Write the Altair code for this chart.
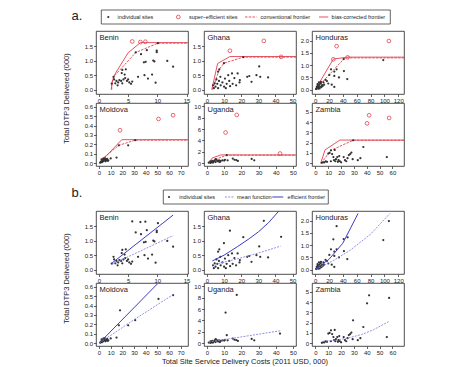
import altair as alt
import pandas as pd

FONT = "Liberation Sans"
RED = "#e2404f"
BLUE = "#3c3cc4"
LBLUE = "#8484e0"
DOT = "#333333"
INK = "#222222"

# ---------------- data: individual sites (cost in 2011 USD 000, DTP3 delivered 000) ----------------
benin_cost = [10.1, 6.3, 7.2, 8.2, 9.9, 9.9, 7.7, 8.0, 9.3, 9.5, 11.7, 12.7, 4.0, 4.6, 3.9, 4.4, 2.5, 2.2, 2.6, 3.0,
              3.3, 3.5, 3.8, 4.0, 4.2, 4.5, 4.8, 5.0, 5.2, 5.5, 3.2, 2.8, 6.7, 7.8, 8.4, 9.1, 9.7, 5.7]
benin_dtp3 = [1.60, 1.28, 1.22, 1.36, 1.34, 1.29, 0.94, 0.96, 1.00, 0.97, 0.99, 0.79, 0.68, 0.70, 0.57, 0.52, 0.44, 0.21, 0.35, 0.30,
              0.25, 0.33, 0.30, 0.22, 0.35, 0.40, 0.30, 0.35, 0.25, 0.20, 0.15, 0.22, 0.44, 0.50, 0.38, 0.52, 0.24, 0.28]
ghana_cost = [21.2, 9.9, 30.5, 14.6, 17.9, 7.8, 12.4, 6.5, 7.2, 24.7, 23.5, 28.9, 31.1, 35.7, 26.0, 19.2, 16.0, 13.0, 10.5, 11.5,
              9.0, 8.0, 6.0, 5.0, 4.5, 4.0, 3.5, 6.5, 10.0, 13.5, 15.0, 17.0, 7.0, 5.5, 11.0, 19.0]
ghana_dtp3 = [1.12, 0.91, 0.80, 0.56, 0.56, 0.44, 0.50, 0.62, 0.70, 0.47, 0.44, 0.50, 0.44, 0.42, 0.27, 0.33, 0.40, 0.30, 0.38, 0.20,
              0.25, 0.15, 0.20, 0.10, 0.22, 0.05, 0.15, 0.05, 0.10, 0.12, 0.20, 0.15, 0.30, 0.35, 0.05, 0.25]
honduras_cost = [41.2, 98.4, 22.9, 27.7, 31.0, 41.6, 20.5, 27.7, 34.4, 46.4, 19.0, 27.7, 24.0, 15.0, 17.0, 12.0, 2.0, 3.0, 4.0, 5.0,
                 6.0, 7.0, 8.0, 9.0, 10.0, 3.5, 5.5, 1.5, 6.5, 8.5, 11.0, 4.5, 2.5, 7.5, 13.0]
honduras_dtp3 = [1.25, 1.21, 0.83, 0.74, 0.83, 0.76, 0.60, 0.56, 0.50, 0.43, 0.25, 0.11, 0.20, 0.40, 0.35, 0.30, 0.05, 0.10, 0.15, 0.08,
                 0.20, 0.12, 0.25, 0.10, 0.18, 0.22, 0.30, 0.02, 0.05, 0.32, 0.15, 0.04, 0.12, 0.28, 0.20]
moldova_cost = [17.0, 25.0, 31.0, 15.0, 10.0, 1.0, 1.5, 2.0, 2.5, 3.0, 3.5, 4.0, 4.5, 5.0, 5.5, 6.0, 6.5, 7.0, 7.5, 8.0,
                2.2, 3.8, 5.2]
moldova_dtp3 = [0.19, 0.19, 0.245, 0.06, 0.05, 0.005, 0.01, 0.02, 0.01, 0.03, 0.02, 0.04, 0.03, 0.035, 0.02, 0.04, 0.03, 0.045, 0.025, 0.03,
                0.04, 0.05, 0.05]
uganda_cost = [11.5, 1.0, 2.0, 2.5, 3.0, 3.5, 4.0, 4.5, 5.0, 5.5, 6.0, 6.5, 7.0, 7.5, 8.0, 9.0, 10.0, 10.5, 12.0, 15.0,
               16.0, 17.0, 18.0, 26.0, 27.5, 2.0, 3.0, 5.0]
uganda_dtp3 = [1.4, 0.1, 0.3, 0.2, 0.4, 0.1, 0.3, 0.5, 0.2, 0.6, 0.4, 0.3, 0.5, 0.2, 0.4, 0.5, 0.45, 0.6, 0.5, 0.8,
               0.6, 0.55, 0.4, 0.75, 0.5, 0.05, 0.15, 0.7]
zambia_cost = [29.3, 37.3, 55.6, 12.1, 10.0, 8.0, 11.0, 13.0, 14.0, 15.0, 16.0, 17.0, 18.0, 19.0, 20.0, 7.0, 9.0, 12.0, 14.5, 15.5,
               17.5, 22.0, 23.0, 24.0, 25.0, 26.0, 27.0, 28.0, 29.0, 33.0, 35.0, 5.0, 6.0, 18.5]
zambia_dtp3 = [2.23, 1.58, 0.61, 1.26, 0.94, 0.20, 1.00, 0.90, 0.60, 1.30, 0.40, 0.60, 0.30, 0.20, 0.10, 0.10, 0.15, 0.20, 0.30, 0.20,
               0.15, 0.60, 0.30, 0.20, 0.50, 0.80, 0.90, 1.04, 0.40, 0.30, 0.50, 0.05, 0.10, 0.70]

# super-efficient sites
benin_super_cost, benin_super_dtp3 = [5.7, 7.1, 7.95], [1.66, 1.64, 1.65]
ghana_super_cost, ghana_super_dtp3 = [13.4, 33.2, 43.3], [1.34, 1.68, 1.13]
honduras_super_cost, honduras_super_dtp3 = [31.0, 106.5, 26.3, 46.9], [1.78, 1.99, 1.24, 1.32]
moldova_super_cost, moldova_super_dtp3 = [18.0, 51.0, 63.5], [0.35, 0.47, 0.51]
uganda_super_cost, uganda_super_dtp3 = [17.3, 10.8, 42.5], [8.5, 5.4, 1.7]
zambia_super_cost, zambia_super_dtp3 = [41.8, 40.2, 57.4], [4.65, 3.87, 4.39]

# conventional frontier (panel a)
benin_conv = ([2.2, 2.2, 2.5, 6.3, 10.1, 16.0], [0.0, 0.21, 0.44, 1.28, 1.60, 1.60])
ghana_conv = ([3.2, 7.2, 9.9, 21.2, 53.0], [0.0, 0.70, 0.91, 1.12, 1.12])
honduras_conv = ([0.5, 41.2, 46.9, 130.0], [0.0, 1.25, 1.30, 1.30])
moldova_conv = ([0.5, 2.2, 17.0, 31.0, 77.0], [0.0, 0.04, 0.19, 0.245, 0.245])
uganda_conv = ([1.0, 5.0, 11.5, 53.0], [0.0, 0.7, 1.4, 1.4])
zambia_conv = ([4.5, 10.0, 12.1, 29.3, 70.0], [0.0, 0.94, 1.26, 2.23, 2.23])

# bias-corrected frontier (panel a)
benin_bias = ([2.1, 2.3, 2.7, 5.0, 7.1, 10.1, 16.0], [0.0, 0.28, 0.52, 1.27, 1.62, 1.62, 1.62])
ghana_bias = ([2.8, 6.2, 13.4, 53.0], [0.0, 0.90, 1.14, 1.14])
honduras_bias = ([0.3, 26.3, 46.9, 130.0], [0.0, 1.25, 1.33, 1.33])
moldova_bias = ([0.3, 19.5, 77.0], [0.0, 0.25, 0.25])
uganda_bias = ([0.8, 3.0, 8.0, 53.0], [0.0, 0.9, 1.45, 1.45])
zambia_bias = ([4.0, 7.5, 19.0, 70.0], [0.0, 1.3, 2.25, 2.25])

# mean function (panel b)
benin_mean = ([2.2, 12.7], [0.18, 1.17])
ghana_mean = ([3.1, 15.0, 30.0, 43.0], [0.16, 0.33, 0.57, 0.81])
honduras_mean = ([0.5, 25.0, 50.0, 80.0, 108.0], [0.01, 0.35, 0.78, 1.45, 2.3])
moldova_mean = ([0.5, 30.0, 64.0], [0.004, 0.25, 0.52])
uganda_mean = ([1.0, 43.0], [0.2, 2.2])
zambia_mean = ([6.0, 15.0, 25.0, 36.0, 45.0, 57.0], [0.2, 0.3, 0.5, 0.85, 1.3, 2.1])

# efficient frontier (panel b)
benin_eff = ([2.2, 12.7], [0.22, 1.88])
ghana_eff = ([3.1, 10.0, 18.0, 25.0, 30.0, 36.0, 42.0], [0.30, 0.50, 0.80, 1.08, 1.30, 1.62, 2.02])
honduras_eff = ([0.5, 20.0, 40.0, 62.0], [0.02, 0.42, 1.08, 2.3])
moldova_eff = ([0.5, 50.0], [0.005, 0.63])

countries = ["Benin", "Ghana", "Honduras", "Moldova", "Uganda", "Zambia"]

SITES = {"Benin": (benin_cost, benin_dtp3), "Ghana": (ghana_cost, ghana_dtp3),
         "Honduras": (honduras_cost, honduras_dtp3), "Moldova": (moldova_cost, moldova_dtp3),
         "Uganda": (uganda_cost, uganda_dtp3), "Zambia": (zambia_cost, zambia_dtp3)}
SUPER = {"Benin": (benin_super_cost, benin_super_dtp3), "Ghana": (ghana_super_cost, ghana_super_dtp3),
         "Honduras": (honduras_super_cost, honduras_super_dtp3), "Moldova": (moldova_super_cost, moldova_super_dtp3),
         "Uganda": (uganda_super_cost, uganda_super_dtp3), "Zambia": (zambia_super_cost, zambia_super_dtp3)}
CONV = {"Benin": benin_conv, "Ghana": ghana_conv, "Honduras": honduras_conv,
        "Moldova": moldova_conv, "Uganda": uganda_conv, "Zambia": zambia_conv}
BIAS = {"Benin": benin_bias, "Ghana": ghana_bias, "Honduras": honduras_bias,
        "Moldova": moldova_bias, "Uganda": uganda_bias, "Zambia": zambia_bias}
MEAN = {"Benin": benin_mean, "Ghana": ghana_mean, "Honduras": honduras_mean,
        "Moldova": moldova_mean, "Uganda": uganda_mean, "Zambia": zambia_mean}
EFF = {"Benin": benin_eff, "Ghana": ghana_eff, "Honduras": honduras_eff, "Moldova": moldova_eff}

# axes
X_DOMAIN = {"Benin": [-0.5, 15.25], "Ghana": [-1.75, 52.0], "Honduras": [-4.5, 128.3],
            "Moldova": [-2.6, 76.3], "Uganda": [-1.75, 51.8], "Zambia": [-2.7, 69.0]}
Y_DOMAIN = {"Benin": [-0.15, 2.02], "Ghana": [-0.15, 2.02], "Honduras": [-0.18, 2.4],
            "Moldova": [-0.03, 0.64], "Uganda": [-0.5, 10.6], "Zambia": [-0.26, 5.84]}
X_TICKS = {"Benin": [0, 5, 10, 15], "Ghana": [0, 10, 20, 30, 40, 50], "Honduras": [0, 20, 40, 60, 80, 100, 120],
           "Moldova": [0, 10, 20, 30, 40, 50, 60, 70], "Uganda": [0, 10, 20, 30, 40, 50],
           "Zambia": [0, 10, 20, 30, 40, 50, 60]}
Y_TICKS = {"Benin": [0, 0.5, 1.0, 1.5], "Ghana": [0, 0.5, 1.0, 1.5], "Honduras": [0, 0.5, 1.0, 1.5, 2.0],
           "Moldova": [0, 0.1, 0.2, 0.3, 0.4, 0.5, 0.6], "Uganda": [0, 2, 4, 6, 8, 10],
           "Zambia": [0, 1, 2, 3, 4, 5]}
Y_FORMAT = {"Benin": ".1f", "Ghana": ".1f", "Honduras": ".1f", "Moldova": ".1f", "Uganda": "d", "Zambia": "d"}

Y_TITLE = "Total DTP3 Delivered (000)"
X_TITLE = "Total Site Service Delivery Costs (2011 USD, 000)"

legend_a_labels = ["individual sites", "super\u2013efficient sites", "conventional frontier", "bias-corrected frontier"]
legend_a_kinds = ["dot", "circle", "dash_red", "solid_red"]
legend_b_labels = ["individual sites", "mean function", "efficient frontier"]
legend_b_kinds = ["dot", "dash_blue", "solid_blue"]

# ---------------- layout ----------------
W, H = 92, 63
HSP, VSP = 16, 9
LEG_BOX_H = 14

LEG_A_SYM = [(12.3, 12.3), (82.3, 82.3), (149.0, 160.6), (223.0, 232.3)]
LEG_A_TX = [21.6, 93.0, 164.6, 235.6]
LEG_A_BOX = (5.3, 294.3)
LEG_B_SYM = [(73.0, 73.0), (129.0, 137.5), (176.3, 187.3)]
LEG_B_TX = [83.3, 141.0, 191.6]
LEG_B_BOX = (67.3, 232.3)


def xy_df(xs, ys):
    return pd.DataFrame({"cost": xs, "dtp3": ys, "i": list(range(len(xs)))})


def panel(country, section, ytitle=False, xtitle=False):
    xs = alt.Scale(domain=X_DOMAIN[country], nice=False, zero=False)
    ys = alt.Scale(domain=Y_DOMAIN[country], nice=False, zero=False)
    xe = alt.X("cost:Q", scale=xs, axis=alt.Axis(values=X_TICKS[country], format="d", title=None))
    ye = alt.Y("dtp3:Q", scale=ys, axis=alt.Axis(values=Y_TICKS[country], format=Y_FORMAT[country], title=None))
    sx, sy = SITES[country]
    px, py = SUPER[country]
    layers = []
    if section == "a":
        cx, cy = CONV[country]
        bx, by = BIAS[country]
        layers.append(alt.Chart(xy_df(bx, by)).mark_line(color=RED, strokeWidth=0.9, clip=True)
                      .encode(x=xe, y=ye, order="i:Q"))
        layers.append(alt.Chart(xy_df(cx, cy)).mark_line(color=RED, strokeWidth=0.9, strokeDash=[2.5, 1.2], clip=True)
                      .encode(x=xe, y=ye, order="i:Q"))
        layers.append(alt.Chart(xy_df(sx, sy)).mark_circle(size=5, color=DOT, opacity=1)
                      .encode(x=xe, y=ye))
        layers.append(alt.Chart(xy_df(px, py)).mark_point(shape="circle", filled=False, size=14, color=RED,
                                                          strokeWidth=0.8, opacity=1)
                      .encode(x=xe, y=ye))
    else:
        layers.append(alt.Chart(xy_df(sx + px, sy + py)).mark_circle(size=5, color=DOT, opacity=1)
                      .encode(x=xe, y=ye))
        mx, my = MEAN[country]
        layers.append(alt.Chart(xy_df(mx, my)).mark_line(color=LBLUE, strokeWidth=0.9, strokeDash=[2, 1.2], clip=True)
                      .encode(x=xe, y=ye, order="i:Q"))
        if country in EFF:
            ex, ey = EFF[country]
            layers.append(alt.Chart(xy_df(ex, ey)).mark_line(color=BLUE, strokeWidth=1.0, clip=True)
                          .encode(x=xe, y=ye, order="i:Q"))
    layers.append(alt.Chart(pd.DataFrame({"name": [country]}))
                  .mark_text(align="left", baseline="alphabetic", fontSize=7.5, color=INK, font=FONT)
                  .encode(text="name:N", x=alt.value(3.5), y=alt.value(9)))
    if ytitle:
        layers.append(alt.Chart(pd.DataFrame({"t": [Y_TITLE]}))
                      .mark_text(angle=270, align="center", baseline="middle", fontSize=7.5, color=INK, font=FONT)
                      .encode(text="t:N", x=alt.value(-29.5), y=alt.value(H + VSP / 2)))
    if xtitle:
        layers.append(alt.Chart(pd.DataFrame({"t": [X_TITLE]}))
                      .mark_text(align="center", baseline="alphabetic", fontSize=7.5, color=INK, font=FONT)
                      .encode(text="t:N", x=alt.value(W / 2 - 5), y=alt.value(H + 18)))
    return alt.layer(*layers).properties(width=W, height=H)


def legend_chart(labels, kinds, sym, tx, box, tag, cell_h, box_y0, tag_y):
    df = pd.DataFrame({"label": labels, "kind": kinds,
                       "x0": [s[0] for s in sym], "x1": [s[1] for s in sym], "tx": tx})
    # identity pixel scale for the legend layout (extends past the cell, drawn unclipped)
    xs = alt.Scale(domain=[0, W], nice=False, zero=False)
    mid = box_y0 + LEG_BOX_H / 2
    base = alt.Chart(df)
    X0 = alt.X("x0:Q", scale=xs, axis=None)
    layers = [
        alt.Chart(pd.DataFrame({"x0": [box[0]], "x1": [box[1]]}))
        .mark_rect(fill="white", stroke=INK, strokeWidth=0.7)
        .encode(x=X0, x2="x1:Q", y=alt.value(box_y0), y2=alt.value(box_y0 + LEG_BOX_H)),
        base.transform_filter(alt.datum.kind == "dot").mark_circle(size=5, color=DOT, opacity=1)
        .encode(x=X0, y=alt.value(mid)),
        base.transform_filter(alt.datum.kind == "circle")
        .mark_point(shape="circle", filled=False, size=14, color=RED, strokeWidth=0.8, opacity=1)
        .encode(x=X0, y=alt.value(mid)),
        base.transform_filter(alt.datum.kind == "dash_red")
        .mark_rule(color=RED, strokeWidth=0.9, strokeDash=[2.5, 1.2])
        .encode(x=X0, x2="x1:Q", y=alt.value(mid)),
        base.transform_filter(alt.datum.kind == "solid_red")
        .mark_rule(color=RED, strokeWidth=0.9)
        .encode(x=X0, x2="x1:Q", y=alt.value(mid)),
        base.transform_filter(alt.datum.kind == "dash_blue")
        .mark_rule(color=LBLUE, strokeWidth=0.9, strokeDash=[2, 1.2])
        .encode(x=X0, x2="x1:Q", y=alt.value(mid)),
        base.transform_filter(alt.datum.kind == "solid_blue")
        .mark_rule(color=BLUE, strokeWidth=1.0)
        .encode(x=X0, x2="x1:Q", y=alt.value(mid)),
        base.mark_text(align="left", baseline="middle", fontSize=5.5, color=INK, font=FONT)
        .encode(x=alt.X("tx:Q", scale=xs, axis=None), y=alt.value(mid), text="label:N"),
        alt.Chart(pd.DataFrame({"t": [tag]}))
        .mark_text(align="left", baseline="top", fontSize=13, color=INK, font=FONT)
        .encode(text="t:N", x=alt.value(-24.5), y=alt.value(tag_y)),
    ]
    return alt.layer(*layers).properties(width=W, height=cell_h,
                                         view=alt.ViewBackground(stroke="transparent"))


def blank(h):
    return (alt.Chart(pd.DataFrame({"v": [0]})).mark_point(opacity=0, size=1)
            .encode(x=alt.value(5), y=alt.value(5))
            .properties(width=W, height=h, view=alt.ViewBackground(stroke="transparent")))


cells = [
    legend_chart(legend_a_labels, legend_a_kinds, LEG_A_SYM, LEG_A_TX, LEG_A_BOX, "a.", 13, 1, 0.5),
    blank(1), blank(1),
    panel("Benin", "a", ytitle=True), panel("Ghana", "a"), panel("Honduras", "a"),
    panel("Moldova", "a"), panel("Uganda", "a"), panel("Zambia", "a"),
    legend_chart(legend_b_labels, legend_b_kinds, LEG_B_SYM, LEG_B_TX, LEG_B_BOX, "b.", 27, 15, 12),
    blank(1), blank(1),
    panel("Benin", "b", ytitle=True), panel("Ghana", "b"), panel("Honduras", "b"),
    panel("Moldova", "b"), panel("Uganda", "b", xtitle=True), panel("Zambia", "b"),
]

chart = (
    alt.concat(*cells, columns=3, spacing={"row": VSP, "column": HSP}, bounds="flush", align="each")
    .properties(padding={"left": 54, "top": 0, "right": 4, "bottom": 0})
    .configure_axis(labelFontSize=6, labelColor=INK, tickColor=INK, tickSize=2.5, tickWidth=0.7,
                    labelPadding=1, domain=False, grid=False, labelFont=FONT, labelFlush=False,
                    labelOverlap=False)
    .configure_view(stroke=INK, strokeWidth=0.8)
    .configure_text(font=FONT)
)

chart.save("out.html", embed_options={"renderer": "svg", "actions": False})
